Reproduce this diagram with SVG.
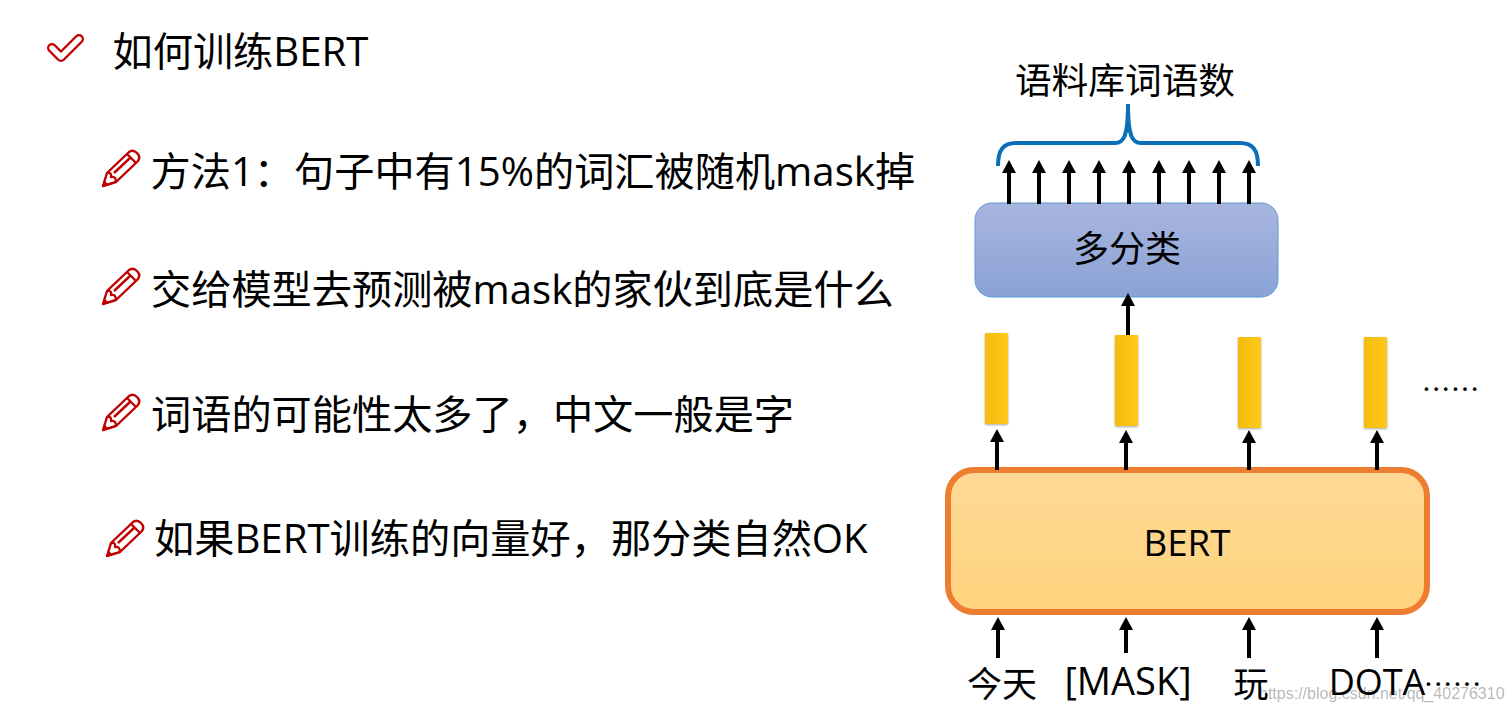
<svg xmlns="http://www.w3.org/2000/svg" width="1512" height="712" viewBox="0 0 1512 712">
<defs>
<style>
text{font-family:"Open Sans","Noto Sans CJK SC","Noto Sans",sans-serif;fill:#000}
.t{font-size:40.2px}.c{text-anchor:middle}
.d{font-size:25px;letter-spacing:2.8px;font-weight:600}
.a{stroke:#000;stroke-width:4;fill:none;marker-end:url(#h)}
.p{fill:none;stroke:#c00000;stroke-width:2.4;stroke-linejoin:round}
.v{filter:url(#s)}
</style>
<marker id="h" markerUnits="userSpaceOnUse" markerWidth="16" markerHeight="16" refX="5" refY="7" orient="auto" overflow="visible"><path d="M0 0L13 7L0 14Z" fill="#000"/></marker>
<linearGradient id="bl" x1="0" y1="0" x2="0" y2="1"><stop offset="0" stop-color="#a8b6de"/><stop offset="1" stop-color="#8aa2d6"/></linearGradient>
<linearGradient id="or" x1="0" y1="0" x2="0" y2="1"><stop offset="0" stop-color="#ffd996"/><stop offset="1" stop-color="#ffd47e"/></linearGradient>
<linearGradient id="ye" x1="0" y1="0" x2="1" y2="0"><stop offset="0" stop-color="#f2bd0a"/><stop offset="1" stop-color="#ffc81e"/></linearGradient>
<filter id="s" x="-30%" y="-10%" width="160%" height="120%"><feDropShadow dx="0" dy="1" stdDeviation="1" flood-color="#000" flood-opacity=".35"/></filter>
<g id="pen"><path class="p" d="M1 -1L5 -14L27 -35Q31 -38 35 -34Q39 -30 36 -26L14 -5Z"/><path class="p" stroke-width="1.8" d="M5 -14Q10 -15 9 -10Q14 -11 14 -5M12 -14L28 -29M25 -33L34 -24"/><path d="M0 0L2 -7L7 -2Z" fill="#c00000"/></g>
</defs>
<rect width="1512" height="712" fill="#fff"/>
<g id="heading">
<path d="M52 48L61 57L79 39" fill="none" stroke="#c00000" stroke-width="10" stroke-linecap="round" stroke-linejoin="round"/>
<path d="M52 48L61 57L79 39" fill="none" stroke="#fff" stroke-width="5.4" stroke-linecap="round" stroke-linejoin="round"/>
<text class="t" x="112.500" y="66">如何训练BERT</text>
</g>
<g id="bullet1"><use href="#pen" x="102" y="187"/><text class="t" x="150.500" y="186">方法1：句子中有15%的词汇被随机mask掉</text></g>
<g id="bullet2"><use href="#pen" x="102" y="305"/><text class="t" x="151" y="304">交给模型去预测被mask的家伙到底是什么</text></g>
<g id="bullet3"><use href="#pen" x="102" y="431"/><text class="t" x="151" y="429">词语的可能性太多了，中文一般是字</text></g>
<g id="bullet4"><use href="#pen" x="106" y="557"/><text class="t" x="154" y="553">如果BERT训练的向量好，那分类自然OK</text></g>
<g id="corpus">
<text x="1125" y="94" class="c" font-size="36.7">语料库词语数</text>
<path d="M998 166C998 150 1003 143 1016 143H1115C1123 143 1128 138 1128 104C1128 138 1133 143 1141 143H1240C1253 143 1258 150 1258 166" fill="none" stroke="#0b6fb8" stroke-width="4"/>
</g>
<g id="classifier"><rect x="975" y="203" width="303" height="94" rx="17" fill="url(#bl)" stroke="#5b9bd5" stroke-width="1"/><text x="1127" y="262" class="c" font-size="36">多分类</text></g>
<g id="vectors">
<rect class="v" x="985" y="333" width="23" height="91" rx="1" fill="url(#ye)"/>
<rect class="v" x="1115" y="335" width="23" height="91" rx="1" fill="url(#ye)"/>
<rect class="v" x="1238" y="337" width="23" height="91" rx="1" fill="url(#ye)"/>
<rect class="v" x="1364" y="337" width="23" height="91" rx="1" fill="url(#ye)"/>
<text x="1423" y="391" class="d">......</text>
</g>
<g id="bert"><rect x="948" y="470" width="479" height="142" rx="26" fill="url(#or)" stroke="#ed7d31" stroke-width="6"/><text x="1187" y="556" class="c" font-size="36.7">BERT</text></g>
<g id="tokens">
<text x="1002" y="697" class="c" font-size="35">今天</text>
<text x="1128" y="695" class="c" font-size="38">[MASK]</text>
<text x="1251" y="697" class="c" font-size="35">玩</text>
<text x="1377" y="695" class="c" font-size="36">DOTA</text>
<text x="1425" y="686" class="d">......</text>
</g>
<g id="connectors">
<path class="a" d="M1009 204V168"/><path class="a" d="M1039 204V168"/><path class="a" d="M1069 204V168"/><path class="a" d="M1099 204V168"/><path class="a" d="M1129 204V168"/><path class="a" d="M1159 204V168"/><path class="a" d="M1189 204V168"/><path class="a" d="M1219 204V168"/><path class="a" d="M1249 204V168"/>
<path class="a" d="M1128 335V301"/>
<path class="a" d="M997 470V437"/><path class="a" d="M1126 470V438"/><path class="a" d="M1249 470V438"/><path class="a" d="M1377 470V438"/>
<path class="a" d="M998 658V625"/><path class="a" d="M1126 653V625"/><path class="a" d="M1249 658V625"/><path class="a" d="M1377 658V625"/>
</g>
<text id="watermark" x="1259" y="699" font-size="16" style="font-family:'Liberation Sans',sans-serif;fill:#000;fill-opacity:.3">https://blog.csdn.net/qq_40276310</text>
</svg>
